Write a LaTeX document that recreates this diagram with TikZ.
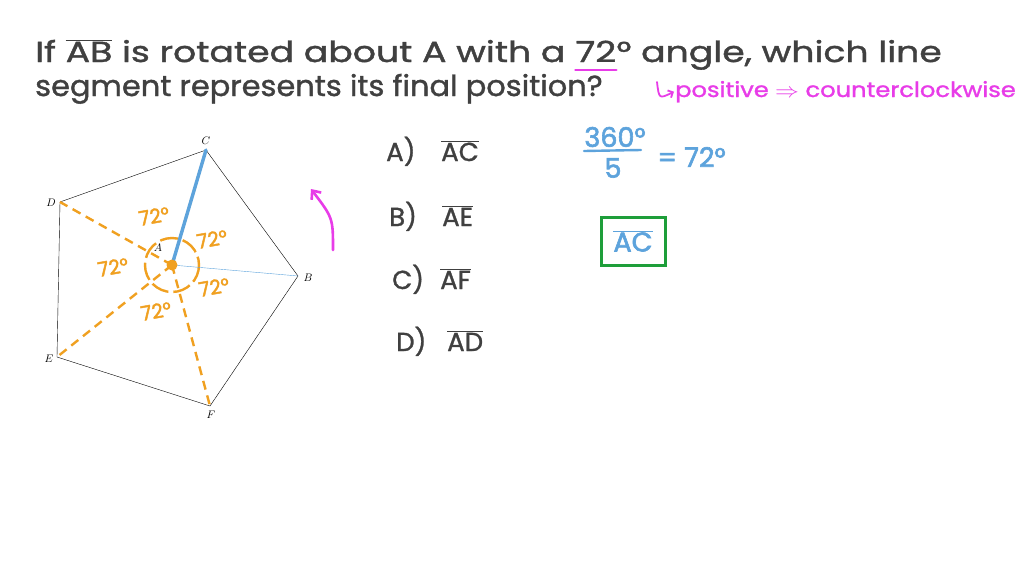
\documentclass[tikz,border=0pt]{standalone}
\usepackage{fontspec}
\setmainfont{Poppins}
\newfontfamily\hand{Poppins}[FakeBold=1.2]
\newfontfamily\thick{Poppins}[FakeBold=2.2]
\usetikzlibrary{positioning,arrows.meta}
\definecolor{ink}{RGB}{64,64,64}
\definecolor{pinkpen}{RGB}{232,60,232}
\definecolor{orangepen}{RGB}{240,160,32}
\definecolor{bluepen}{RGB}{93,163,220}
\definecolor{greenpen}{RGB}{30,158,58}
\newcommand{\seg}[1]{$\overline{\mbox{#1}}$}
\newcommand{\wide}[2]{\scalebox{#1}[1]{#2}}
\tikzset{
  pen/.style={ink, font=\hand\fontsize{29}{34}\selectfont, anchor=base west, inner sep=0pt},
  opt/.style={ink, font=\hand\fontsize{26}{30}\selectfont, anchor=base west, inner sep=0pt},
  deg/.style={orangepen, font=\thick\fontsize{20}{22}\selectfont, rotate=10},
  blue/.style={bluepen, font=\thick\fontsize{27}{30}\selectfont},
  vlab/.style={font=\fontsize{11}{13}\selectfont},
}
\begin{document}
\begin{tikzpicture}[x=1pt,y=-1pt]
    \useasboundingbox[fill=white] (0,0) rectangle (1024,576);
    % 题目
    \node[pen] (q1a) at (35,62) {\wide{1.25}{If \seg{AB} is rotated about A with a\ }};
    \node[pen] (q1b) at (q1a.base east) {\wide{1.25}{72}};
    \node[pen] (q1c) at (q1b.base east) {\wide{1.25}{° angle, which line}};
    \node[pen] (q2) at (35,96) {\wide{1.05}{segment represents its final position?}};
    \draw[pinkpen, line width=2.4pt, line cap=round] ([yshift=-8pt]q1b.base west) -- ([yshift=-8pt]q1b.base east);%72下划线
    \node[pinkpen, font=\hand\fontsize{21}{24}\selectfont, anchor=base west, inner sep=0pt] (note) at (675,97) {\wide{1.15}{positive $\Rightarrow$ counterclockwise}};
    \coordinate (h) at (657,82);
    \draw[pinkpen, line width=1.8pt, line cap=round, -{Straight Barb[length=4pt]}] (h) .. controls (659,99) .. ([xshift=-1pt]note.west);
    % 五边形
    \coordinate (A) at (172,265);
    \coordinate (B) at (298,276);
    \coordinate (C) at (206,150);
    \coordinate (D) at (60,202);
    \coordinate (E) at (57,357);
    \coordinate (F) at (210,406);
    \draw[thin] (C) -- (B) -- (F) -- (E) -- (D) -- cycle;
    \draw[orangepen, line width=2.4pt, dash pattern=on 9pt off 6pt] (A) -- (D) (A) -- (E) (A) -- (F) (A) -- (C);%虚线
    \draw[orangepen, line width=2.4pt, dash pattern=on 18pt off 5pt] (A) circle (27);
    \draw[bluepen, thin] (A) -- (B);
    \draw[bluepen, line width=3.4pt, line cap=round] (A) -- (C);
    \fill[orangepen] (A) circle (5.5);
    \node[vlab] (lA) at (158,248) {$A$};
    \node[vlab] (lB) at (308,278) {$B$};
    \node[vlab] (lC) at (206,141) {$C$};
    \node[vlab] (lD) at (51,203) {$D$};
    \node[vlab] (lE) at (49,359) {$E$};
    \node[vlab] (lF) at (211,415) {$F$};
    % 角度
    \node[deg] (d1) at (154,216) {72°};
    \node[deg] (d2) at (212,239) {72°};
    \node[deg] (d3) at (113,267) {72°};
    \node[deg] (d4) at (214,287) {72°};
    \node[deg] (d5) at (156,311) {72°};
    \coordinate (r1) at (333,250);
    \coordinate (r2) at (311,189);
    \draw[pinkpen, line width=2.6pt, line cap=round, -{Straight Barb[length=7pt,width=12pt]}] (r1) .. controls (333,218) .. (r2);
    % 选项
    \node[opt] (oA) at (386,161) {A)};
    \node[opt] (oB) at (389,226) {B)};
    \node[opt] (oC) at (392,289) {C)};
    \node[opt] (oD) at (396,351) {D)};
    \node[opt] (sA) at (441,161) {\seg{AC}};
    \node[opt] (sB) at (442,226) {\seg{AE}};
    \node[opt] (sC) at (440,289) {\seg{AF}};
    \node[opt] (sD) at (447,351) {\seg{AD}};
    % 解答
    \node[blue] (num) at (615,137) {360°};
    \node[blue] (den) at (613,168) {5};
    \draw[bluepen, line width=2.4pt, line cap=round] (584,151) -- (641,150);
    \node[blue, anchor=west] (res) at (654,157) {= 72°};
    \node[blue, draw=greenpen, line width=3pt, minimum width=64pt, minimum height=48pt] (ans) at (633,241) {\seg{AC}};
\end{tikzpicture}
\end{document}
